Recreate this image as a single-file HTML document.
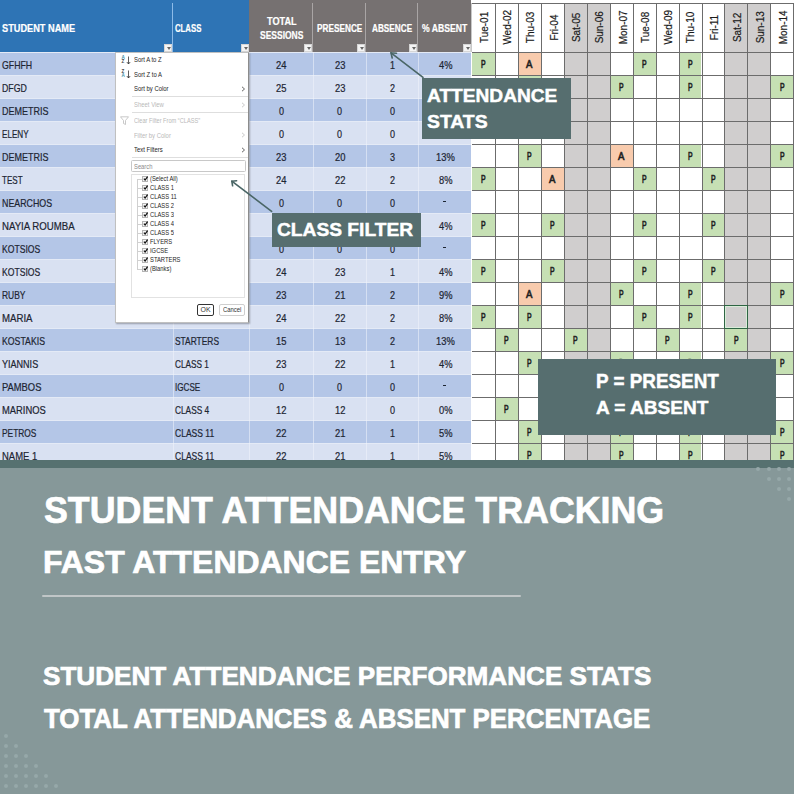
<!DOCTYPE html>
<html><head><meta charset="utf-8"><style>
*{box-sizing:border-box}
html,body{margin:0;padding:0}
body{width:794px;height:794px;overflow:hidden;position:relative;background:#869899;font-family:"Liberation Sans",sans-serif}
.ab{position:absolute}
.t{position:absolute;white-space:nowrap;line-height:1;transform-origin:0 0}
.sk{-webkit-text-stroke:0.3px currentColor}
.fb{position:absolute;width:8px;height:8px;background:#f4f4f4;border:1px solid #d6d6d6}
.fb:after{content:"";position:absolute;left:1.5px;top:2.5px;border-left:2.5px solid transparent;border-right:2.5px solid transparent;border-top:3px solid #666}
.gl{position:absolute;background:#6c6c6c}
.sk2{-webkit-text-stroke:0.45px currentColor}
.sk3{-webkit-text-stroke:0.7px currentColor}
.sk4{-webkit-text-stroke:0.6px currentColor}
.sk1{-webkit-text-stroke:0.2px currentColor}
.co{position:absolute;background:#566e6f}
.cb{position:absolute;width:5.6px;height:5.6px;border:0.8px solid #b4b4b4;background:#f6f6f6}
.dot{position:absolute;width:4px;height:4px;border-radius:50%;background:#96a8a9}
</style></head><body>

<div class="ab" style="left:0;top:0;width:249px;height:52px;background:#2e74b5"></div>
<div class="ab" style="left:249px;top:0;width:223px;height:52px;background:#767171"></div>
<div class="ab" style="left:172px;top:3px;width:1.2px;height:49px;background:#8dbbe8"></div>
<div class="ab" style="left:312px;top:3px;width:1.2px;height:49px;background:#a9a5a5"></div>
<div class="ab" style="left:365px;top:3px;width:1.2px;height:49px;background:#a9a5a5"></div>
<div class="ab" style="left:417px;top:3px;width:1.2px;height:49px;background:#a9a5a5"></div>
<div class="t sk1" style="left:1.60px;top:23.69px;font-size:10.17px;font-weight:bold;color:#fff;transform:scaleX(0.9065);">STUDENT NAME</div>
<div class="t sk1" style="left:174.90px;top:23.69px;font-size:10.17px;font-weight:bold;color:#fff;transform:scaleX(0.7661);">CLASS</div>
<div class="t sk1" style="left:266.70px;top:16.74px;font-size:10.47px;font-weight:bold;color:#fff;transform:scaleX(0.8724);">TOTAL</div>
<div class="t sk1" style="left:259.70px;top:31.04px;font-size:10.47px;font-weight:bold;color:#fff;transform:scaleX(0.8102);">SESSIONS</div>
<div class="t sk1" style="left:316.80px;top:23.69px;font-size:10.17px;font-weight:bold;color:#fff;transform:scaleX(0.8112);">PRESENCE</div>
<div class="t sk1" style="left:371.80px;top:23.69px;font-size:10.17px;font-weight:bold;color:#fff;transform:scaleX(0.8077);">ABSENCE</div>
<div class="t sk1" style="left:422.30px;top:23.69px;font-size:10.17px;font-weight:bold;color:#fff;transform:scaleX(0.8488);">% ABSENT</div>
<div class="fb" style="left:164px;top:43.5px"></div>
<div class="fb" style="left:241px;top:43.5px"></div>
<div class="fb" style="left:304px;top:43.5px"></div>
<div class="fb" style="left:357px;top:43.5px"></div>
<div class="fb" style="left:409px;top:43.5px"></div>
<div class="fb" style="left:463px;top:43.5px"></div>
<div class="ab" style="left:0;top:52px;width:472px;height:23px;background:#b4c6e7;border-top:1px solid #e4eaf6"></div>
<div class="ab" style="left:0;top:75px;width:472px;height:23px;background:#d9e1f2;border-top:1px solid #e4eaf6"></div>
<div class="ab" style="left:0;top:98px;width:472px;height:23px;background:#b4c6e7;border-top:1px solid #e4eaf6"></div>
<div class="ab" style="left:0;top:121px;width:472px;height:23px;background:#d9e1f2;border-top:1px solid #e4eaf6"></div>
<div class="ab" style="left:0;top:144px;width:472px;height:23px;background:#b4c6e7;border-top:1px solid #e4eaf6"></div>
<div class="ab" style="left:0;top:167px;width:472px;height:23px;background:#d9e1f2;border-top:1px solid #e4eaf6"></div>
<div class="ab" style="left:0;top:190px;width:472px;height:23px;background:#b4c6e7;border-top:1px solid #e4eaf6"></div>
<div class="ab" style="left:0;top:213px;width:472px;height:23px;background:#d9e1f2;border-top:1px solid #e4eaf6"></div>
<div class="ab" style="left:0;top:236px;width:472px;height:23px;background:#b4c6e7;border-top:1px solid #e4eaf6"></div>
<div class="ab" style="left:0;top:259px;width:472px;height:23px;background:#d9e1f2;border-top:1px solid #e4eaf6"></div>
<div class="ab" style="left:0;top:282px;width:472px;height:23px;background:#b4c6e7;border-top:1px solid #e4eaf6"></div>
<div class="ab" style="left:0;top:305px;width:472px;height:23px;background:#d9e1f2;border-top:1px solid #e4eaf6"></div>
<div class="ab" style="left:0;top:328px;width:472px;height:23px;background:#b4c6e7;border-top:1px solid #e4eaf6"></div>
<div class="ab" style="left:0;top:351px;width:472px;height:23px;background:#d9e1f2;border-top:1px solid #e4eaf6"></div>
<div class="ab" style="left:0;top:374px;width:472px;height:23px;background:#b4c6e7;border-top:1px solid #e4eaf6"></div>
<div class="ab" style="left:0;top:397px;width:472px;height:23px;background:#d9e1f2;border-top:1px solid #e4eaf6"></div>
<div class="ab" style="left:0;top:420px;width:472px;height:23px;background:#b4c6e7;border-top:1px solid #e4eaf6"></div>
<div class="ab" style="left:0;top:443px;width:472px;height:23px;background:#d9e1f2;border-top:1px solid #e4eaf6"></div>
<div class="ab" style="left:172.5px;top:52px;width:1.2px;height:410px;background:rgba(240,244,252,0.55)"></div>
<div class="ab" style="left:249px;top:52px;width:1.2px;height:410px;background:rgba(240,244,252,0.55)"></div>
<div class="ab" style="left:312.5px;top:52px;width:1.2px;height:410px;background:rgba(240,244,252,0.55)"></div>
<div class="ab" style="left:365.5px;top:52px;width:1.2px;height:410px;background:rgba(240,244,252,0.55)"></div>
<div class="ab" style="left:417.5px;top:52px;width:1.2px;height:410px;background:rgba(240,244,252,0.55)"></div>
<div class="t sk1" style="left:1.90px;top:60.51px;font-size:10.03px;font-weight:normal;color:#1d2532;transform:scaleX(0.8721);">GFHFH</div>
<div class="t sk1" style="left:276.26px;top:60.51px;font-size:10.03px;font-weight:normal;color:#1d2532;transform:scaleX(0.9351);">24</div>
<div class="t sk1" style="left:334.51px;top:60.51px;font-size:10.03px;font-weight:normal;color:#1d2532;transform:scaleX(0.9351);">23</div>
<div class="t sk1" style="left:389.68px;top:60.51px;font-size:10.03px;font-weight:normal;color:#1d2532;transform:scaleX(0.9007);">1</div>
<div class="t sk1" style="left:438.70px;top:60.51px;font-size:10.03px;font-weight:normal;color:#1d2532;transform:scaleX(0.9316);">4%</div>
<div class="t sk1" style="left:1.90px;top:83.51px;font-size:10.03px;font-weight:normal;color:#1d2532;transform:scaleX(0.8763);">DFGD</div>
<div class="t sk1" style="left:276.26px;top:83.51px;font-size:10.03px;font-weight:normal;color:#1d2532;transform:scaleX(0.9351);">25</div>
<div class="t sk1" style="left:334.51px;top:83.51px;font-size:10.03px;font-weight:normal;color:#1d2532;transform:scaleX(0.9351);">23</div>
<div class="t sk1" style="left:389.68px;top:83.51px;font-size:10.03px;font-weight:normal;color:#1d2532;transform:scaleX(0.9007);">2</div>
<div class="t sk1" style="left:438.70px;top:83.51px;font-size:10.03px;font-weight:normal;color:#1d2532;transform:scaleX(0.9316);">8%</div>
<div class="t sk1" style="left:1.90px;top:106.51px;font-size:10.03px;font-weight:normal;color:#1d2532;transform:scaleX(0.8975);">DEMETRIS</div>
<div class="t sk1" style="left:278.93px;top:106.51px;font-size:10.03px;font-weight:normal;color:#1d2532;transform:scaleX(0.9007);">0</div>
<div class="t sk1" style="left:337.18px;top:106.51px;font-size:10.03px;font-weight:normal;color:#1d2532;transform:scaleX(0.9007);">0</div>
<div class="t sk1" style="left:389.68px;top:106.51px;font-size:10.03px;font-weight:normal;color:#1d2532;transform:scaleX(0.9007);">0</div>
<div class="ab" style="left:443.2px;top:109px;width:3px;height:1px;background:#1d2532"></div>
<div class="t sk1" style="left:1.90px;top:129.51px;font-size:10.03px;font-weight:normal;color:#1d2532;transform:scaleX(0.8110);">ELENY</div>
<div class="t sk1" style="left:278.93px;top:129.51px;font-size:10.03px;font-weight:normal;color:#1d2532;transform:scaleX(0.9007);">0</div>
<div class="t sk1" style="left:337.18px;top:129.51px;font-size:10.03px;font-weight:normal;color:#1d2532;transform:scaleX(0.9007);">0</div>
<div class="t sk1" style="left:389.68px;top:129.51px;font-size:10.03px;font-weight:normal;color:#1d2532;transform:scaleX(0.9007);">0</div>
<div class="ab" style="left:443.2px;top:132px;width:3px;height:1px;background:#1d2532"></div>
<div class="t sk1" style="left:1.90px;top:152.51px;font-size:10.03px;font-weight:normal;color:#1d2532;transform:scaleX(0.8975);">DEMETRIS</div>
<div class="t sk1" style="left:276.26px;top:152.51px;font-size:10.03px;font-weight:normal;color:#1d2532;transform:scaleX(0.9351);">23</div>
<div class="t sk1" style="left:334.51px;top:152.51px;font-size:10.03px;font-weight:normal;color:#1d2532;transform:scaleX(0.9351);">20</div>
<div class="t sk1" style="left:389.68px;top:152.51px;font-size:10.03px;font-weight:normal;color:#1d2532;transform:scaleX(0.9007);">3</div>
<div class="t sk1" style="left:436.07px;top:152.51px;font-size:10.03px;font-weight:normal;color:#1d2532;transform:scaleX(0.9376);">13%</div>
<div class="t sk1" style="left:1.90px;top:175.51px;font-size:10.03px;font-weight:normal;color:#1d2532;transform:scaleX(0.8047);">TEST</div>
<div class="t sk1" style="left:276.26px;top:175.51px;font-size:10.03px;font-weight:normal;color:#1d2532;transform:scaleX(0.9351);">24</div>
<div class="t sk1" style="left:334.51px;top:175.51px;font-size:10.03px;font-weight:normal;color:#1d2532;transform:scaleX(0.9351);">22</div>
<div class="t sk1" style="left:389.68px;top:175.51px;font-size:10.03px;font-weight:normal;color:#1d2532;transform:scaleX(0.9007);">2</div>
<div class="t sk1" style="left:438.70px;top:175.51px;font-size:10.03px;font-weight:normal;color:#1d2532;transform:scaleX(0.9316);">8%</div>
<div class="t sk1" style="left:1.90px;top:198.51px;font-size:10.03px;font-weight:normal;color:#1d2532;transform:scaleX(0.8818);">NEARCHOS</div>
<div class="t sk1" style="left:278.93px;top:198.51px;font-size:10.03px;font-weight:normal;color:#1d2532;transform:scaleX(0.9007);">0</div>
<div class="t sk1" style="left:337.18px;top:198.51px;font-size:10.03px;font-weight:normal;color:#1d2532;transform:scaleX(0.9007);">0</div>
<div class="t sk1" style="left:389.68px;top:198.51px;font-size:10.03px;font-weight:normal;color:#1d2532;transform:scaleX(0.9007);">0</div>
<div class="ab" style="left:443.2px;top:201px;width:3px;height:1px;background:#1d2532"></div>
<div class="t sk1" style="left:1.90px;top:221.51px;font-size:10.03px;font-weight:normal;color:#1d2532;transform:scaleX(0.9629);">NAYIA ROUMBA</div>
<div class="t sk1" style="left:276.26px;top:221.51px;font-size:10.03px;font-weight:normal;color:#1d2532;transform:scaleX(0.9351);">24</div>
<div class="t sk1" style="left:334.51px;top:221.51px;font-size:10.03px;font-weight:normal;color:#1d2532;transform:scaleX(0.9351);">23</div>
<div class="t sk1" style="left:389.68px;top:221.51px;font-size:10.03px;font-weight:normal;color:#1d2532;transform:scaleX(0.9007);">1</div>
<div class="t sk1" style="left:438.70px;top:221.51px;font-size:10.03px;font-weight:normal;color:#1d2532;transform:scaleX(0.9316);">4%</div>
<div class="t sk1" style="left:1.90px;top:244.51px;font-size:10.03px;font-weight:normal;color:#1d2532;transform:scaleX(0.8584);">KOTSIOS</div>
<div class="t sk1" style="left:278.93px;top:244.51px;font-size:10.03px;font-weight:normal;color:#1d2532;transform:scaleX(0.9007);">0</div>
<div class="t sk1" style="left:337.18px;top:244.51px;font-size:10.03px;font-weight:normal;color:#1d2532;transform:scaleX(0.9007);">0</div>
<div class="t sk1" style="left:389.68px;top:244.51px;font-size:10.03px;font-weight:normal;color:#1d2532;transform:scaleX(0.9007);">0</div>
<div class="ab" style="left:443.2px;top:247px;width:3px;height:1px;background:#1d2532"></div>
<div class="t sk1" style="left:1.90px;top:267.51px;font-size:10.03px;font-weight:normal;color:#1d2532;transform:scaleX(0.8584);">KOTSIOS</div>
<div class="t sk1" style="left:276.26px;top:267.51px;font-size:10.03px;font-weight:normal;color:#1d2532;transform:scaleX(0.9351);">24</div>
<div class="t sk1" style="left:334.51px;top:267.51px;font-size:10.03px;font-weight:normal;color:#1d2532;transform:scaleX(0.9351);">23</div>
<div class="t sk1" style="left:389.68px;top:267.51px;font-size:10.03px;font-weight:normal;color:#1d2532;transform:scaleX(0.9007);">1</div>
<div class="t sk1" style="left:438.70px;top:267.51px;font-size:10.03px;font-weight:normal;color:#1d2532;transform:scaleX(0.9316);">4%</div>
<div class="t sk1" style="left:1.90px;top:290.51px;font-size:10.03px;font-weight:normal;color:#1d2532;transform:scaleX(0.8417);">RUBY</div>
<div class="t sk1" style="left:276.26px;top:290.51px;font-size:10.03px;font-weight:normal;color:#1d2532;transform:scaleX(0.9351);">23</div>
<div class="t sk1" style="left:334.51px;top:290.51px;font-size:10.03px;font-weight:normal;color:#1d2532;transform:scaleX(0.9351);">21</div>
<div class="t sk1" style="left:389.68px;top:290.51px;font-size:10.03px;font-weight:normal;color:#1d2532;transform:scaleX(0.9007);">2</div>
<div class="t sk1" style="left:438.70px;top:290.51px;font-size:10.03px;font-weight:normal;color:#1d2532;transform:scaleX(0.9316);">9%</div>
<div class="t sk1" style="left:1.90px;top:313.51px;font-size:10.03px;font-weight:normal;color:#1d2532;transform:scaleX(0.9621);">MARIA</div>
<div class="t sk1" style="left:276.26px;top:313.51px;font-size:10.03px;font-weight:normal;color:#1d2532;transform:scaleX(0.9351);">24</div>
<div class="t sk1" style="left:334.51px;top:313.51px;font-size:10.03px;font-weight:normal;color:#1d2532;transform:scaleX(0.9351);">22</div>
<div class="t sk1" style="left:389.68px;top:313.51px;font-size:10.03px;font-weight:normal;color:#1d2532;transform:scaleX(0.9007);">2</div>
<div class="t sk1" style="left:438.70px;top:313.51px;font-size:10.03px;font-weight:normal;color:#1d2532;transform:scaleX(0.9316);">8%</div>
<div class="t sk1" style="left:1.90px;top:336.51px;font-size:10.03px;font-weight:normal;color:#1d2532;transform:scaleX(0.8702);">KOSTAKIS</div>
<div class="t sk1" style="left:174.90px;top:336.51px;font-size:10.03px;font-weight:normal;color:#1d2532;transform:scaleX(0.8378);">STARTERS</div>
<div class="t sk1" style="left:276.26px;top:336.51px;font-size:10.03px;font-weight:normal;color:#1d2532;transform:scaleX(0.9351);">15</div>
<div class="t sk1" style="left:334.51px;top:336.51px;font-size:10.03px;font-weight:normal;color:#1d2532;transform:scaleX(0.9351);">13</div>
<div class="t sk1" style="left:389.68px;top:336.51px;font-size:10.03px;font-weight:normal;color:#1d2532;transform:scaleX(0.9007);">2</div>
<div class="t sk1" style="left:436.07px;top:336.51px;font-size:10.03px;font-weight:normal;color:#1d2532;transform:scaleX(0.9376);">13%</div>
<div class="t sk1" style="left:1.90px;top:359.51px;font-size:10.03px;font-weight:normal;color:#1d2532;transform:scaleX(0.9025);">YIANNIS</div>
<div class="t sk1" style="left:174.90px;top:359.51px;font-size:10.03px;font-weight:normal;color:#1d2532;transform:scaleX(0.8224);">CLASS 1</div>
<div class="t sk1" style="left:276.26px;top:359.51px;font-size:10.03px;font-weight:normal;color:#1d2532;transform:scaleX(0.9351);">23</div>
<div class="t sk1" style="left:334.51px;top:359.51px;font-size:10.03px;font-weight:normal;color:#1d2532;transform:scaleX(0.9351);">22</div>
<div class="t sk1" style="left:389.68px;top:359.51px;font-size:10.03px;font-weight:normal;color:#1d2532;transform:scaleX(0.9007);">1</div>
<div class="t sk1" style="left:438.70px;top:359.51px;font-size:10.03px;font-weight:normal;color:#1d2532;transform:scaleX(0.9316);">4%</div>
<div class="t sk1" style="left:1.90px;top:382.51px;font-size:10.03px;font-weight:normal;color:#1d2532;transform:scaleX(0.9357);">PAMBOS</div>
<div class="t sk1" style="left:174.90px;top:382.51px;font-size:10.03px;font-weight:normal;color:#1d2532;transform:scaleX(0.8103);">IGCSE</div>
<div class="t sk1" style="left:278.93px;top:382.51px;font-size:10.03px;font-weight:normal;color:#1d2532;transform:scaleX(0.9007);">0</div>
<div class="t sk1" style="left:337.18px;top:382.51px;font-size:10.03px;font-weight:normal;color:#1d2532;transform:scaleX(0.9007);">0</div>
<div class="t sk1" style="left:389.68px;top:382.51px;font-size:10.03px;font-weight:normal;color:#1d2532;transform:scaleX(0.9007);">0</div>
<div class="ab" style="left:443.2px;top:385px;width:3px;height:1px;background:#1d2532"></div>
<div class="t sk1" style="left:1.90px;top:405.51px;font-size:10.03px;font-weight:normal;color:#1d2532;transform:scaleX(0.9358);">MARINOS</div>
<div class="t sk1" style="left:174.90px;top:405.51px;font-size:10.03px;font-weight:normal;color:#1d2532;transform:scaleX(0.8297);">CLASS 4</div>
<div class="t sk1" style="left:276.26px;top:405.51px;font-size:10.03px;font-weight:normal;color:#1d2532;transform:scaleX(0.9351);">12</div>
<div class="t sk1" style="left:334.51px;top:405.51px;font-size:10.03px;font-weight:normal;color:#1d2532;transform:scaleX(0.9351);">12</div>
<div class="t sk1" style="left:389.68px;top:405.51px;font-size:10.03px;font-weight:normal;color:#1d2532;transform:scaleX(0.9007);">0</div>
<div class="t sk1" style="left:438.70px;top:405.51px;font-size:10.03px;font-weight:normal;color:#1d2532;transform:scaleX(0.9316);">0%</div>
<div class="t sk1" style="left:1.90px;top:428.51px;font-size:10.03px;font-weight:normal;color:#1d2532;transform:scaleX(0.8345);">PETROS</div>
<div class="t sk1" style="left:174.90px;top:428.51px;font-size:10.03px;font-weight:normal;color:#1d2532;transform:scaleX(0.8500);">CLASS 11</div>
<div class="t sk1" style="left:276.26px;top:428.51px;font-size:10.03px;font-weight:normal;color:#1d2532;transform:scaleX(0.9351);">22</div>
<div class="t sk1" style="left:334.51px;top:428.51px;font-size:10.03px;font-weight:normal;color:#1d2532;transform:scaleX(0.9351);">21</div>
<div class="t sk1" style="left:389.68px;top:428.51px;font-size:10.03px;font-weight:normal;color:#1d2532;transform:scaleX(0.9007);">1</div>
<div class="t sk1" style="left:438.70px;top:428.51px;font-size:10.03px;font-weight:normal;color:#1d2532;transform:scaleX(0.9316);">5%</div>
<div class="t sk1" style="left:1.90px;top:451.51px;font-size:10.03px;font-weight:normal;color:#1d2532;transform:scaleX(0.9435);">NAME 1</div>
<div class="t sk1" style="left:174.90px;top:451.51px;font-size:10.03px;font-weight:normal;color:#1d2532;transform:scaleX(0.8500);">CLASS 11</div>
<div class="t sk1" style="left:276.26px;top:451.51px;font-size:10.03px;font-weight:normal;color:#1d2532;transform:scaleX(0.9351);">22</div>
<div class="t sk1" style="left:334.51px;top:451.51px;font-size:10.03px;font-weight:normal;color:#1d2532;transform:scaleX(0.9351);">21</div>
<div class="t sk1" style="left:389.68px;top:451.51px;font-size:10.03px;font-weight:normal;color:#1d2532;transform:scaleX(0.9007);">1</div>
<div class="t sk1" style="left:438.70px;top:451.51px;font-size:10.03px;font-weight:normal;color:#1d2532;transform:scaleX(0.9316);">5%</div>
<div class="ab" style="left:471px;top:0px;width:323px;height:463px;background:#fff"></div>
<div class="ab" style="left:563.8px;top:3px;width:22.95px;height:459px;background:#d0cece"></div>
<div class="ab" style="left:586.75px;top:3px;width:22.95px;height:459px;background:#d0cece"></div>
<div class="ab" style="left:724.45px;top:3px;width:22.95px;height:459px;background:#d0cece"></div>
<div class="ab" style="left:747.4px;top:3px;width:22.95px;height:459px;background:#d0cece"></div>
<div class="ab" style="left:472.0px;top:52px;width:22.95px;height:23px;background:#c6e0b4"></div>
<div class="t sk4" style="left:481.48px;top:60.11px;font-size:10.03px;font-weight:normal;color:#1f1f1f;transform:scaleX(0.6866);">P</div>
<div class="ab" style="left:517.9px;top:52px;width:22.95px;height:23px;background:#f8cbad"></div>
<div class="t sk4" style="left:526.47px;top:60.11px;font-size:10.03px;font-weight:normal;color:#1f1f1f;transform:scaleX(0.9552);">A</div>
<div class="ab" style="left:632.65px;top:52px;width:22.95px;height:23px;background:#c6e0b4"></div>
<div class="t sk4" style="left:642.12px;top:60.11px;font-size:10.03px;font-weight:normal;color:#1f1f1f;transform:scaleX(0.6866);">P</div>
<div class="ab" style="left:678.55px;top:52px;width:22.95px;height:23px;background:#c6e0b4"></div>
<div class="t sk4" style="left:688.02px;top:60.11px;font-size:10.03px;font-weight:normal;color:#1f1f1f;transform:scaleX(0.6866);">P</div>
<div class="ab" style="left:517.9px;top:75px;width:22.95px;height:23px;background:#c6e0b4"></div>
<div class="t sk4" style="left:527.38px;top:83.11px;font-size:10.03px;font-weight:normal;color:#1f1f1f;transform:scaleX(0.6866);">P</div>
<div class="ab" style="left:609.7px;top:75px;width:22.95px;height:23px;background:#c6e0b4"></div>
<div class="t sk4" style="left:619.18px;top:83.11px;font-size:10.03px;font-weight:normal;color:#1f1f1f;transform:scaleX(0.6866);">P</div>
<div class="ab" style="left:678.55px;top:75px;width:22.95px;height:23px;background:#c6e0b4"></div>
<div class="t sk4" style="left:688.02px;top:83.11px;font-size:10.03px;font-weight:normal;color:#1f1f1f;transform:scaleX(0.6866);">P</div>
<div class="ab" style="left:770.3499999999999px;top:75px;width:22.95px;height:23px;background:#c6e0b4"></div>
<div class="t sk4" style="left:779.82px;top:83.11px;font-size:10.03px;font-weight:normal;color:#1f1f1f;transform:scaleX(0.6866);">P</div>
<div class="ab" style="left:517.9px;top:144px;width:22.95px;height:23px;background:#c6e0b4"></div>
<div class="t sk4" style="left:527.38px;top:152.11px;font-size:10.03px;font-weight:normal;color:#1f1f1f;transform:scaleX(0.6866);">P</div>
<div class="ab" style="left:609.7px;top:144px;width:22.95px;height:23px;background:#f8cbad"></div>
<div class="t sk4" style="left:618.27px;top:152.11px;font-size:10.03px;font-weight:normal;color:#1f1f1f;transform:scaleX(0.9552);">A</div>
<div class="ab" style="left:678.55px;top:144px;width:22.95px;height:23px;background:#c6e0b4"></div>
<div class="t sk4" style="left:688.02px;top:152.11px;font-size:10.03px;font-weight:normal;color:#1f1f1f;transform:scaleX(0.6866);">P</div>
<div class="ab" style="left:770.3499999999999px;top:144px;width:22.95px;height:23px;background:#c6e0b4"></div>
<div class="t sk4" style="left:779.82px;top:152.11px;font-size:10.03px;font-weight:normal;color:#1f1f1f;transform:scaleX(0.6866);">P</div>
<div class="ab" style="left:472.0px;top:167px;width:22.95px;height:23px;background:#c6e0b4"></div>
<div class="t sk4" style="left:481.48px;top:175.11px;font-size:10.03px;font-weight:normal;color:#1f1f1f;transform:scaleX(0.6866);">P</div>
<div class="ab" style="left:540.85px;top:167px;width:22.95px;height:23px;background:#f8cbad"></div>
<div class="t sk4" style="left:549.42px;top:175.11px;font-size:10.03px;font-weight:normal;color:#1f1f1f;transform:scaleX(0.9552);">A</div>
<div class="ab" style="left:632.65px;top:167px;width:22.95px;height:23px;background:#c6e0b4"></div>
<div class="t sk4" style="left:642.12px;top:175.11px;font-size:10.03px;font-weight:normal;color:#1f1f1f;transform:scaleX(0.6866);">P</div>
<div class="ab" style="left:701.5px;top:167px;width:22.95px;height:23px;background:#c6e0b4"></div>
<div class="t sk4" style="left:710.98px;top:175.11px;font-size:10.03px;font-weight:normal;color:#1f1f1f;transform:scaleX(0.6866);">P</div>
<div class="ab" style="left:472.0px;top:213px;width:22.95px;height:23px;background:#c6e0b4"></div>
<div class="t sk4" style="left:481.48px;top:221.11px;font-size:10.03px;font-weight:normal;color:#1f1f1f;transform:scaleX(0.6866);">P</div>
<div class="ab" style="left:540.85px;top:213px;width:22.95px;height:23px;background:#c6e0b4"></div>
<div class="t sk4" style="left:550.33px;top:221.11px;font-size:10.03px;font-weight:normal;color:#1f1f1f;transform:scaleX(0.6866);">P</div>
<div class="ab" style="left:632.65px;top:213px;width:22.95px;height:23px;background:#c6e0b4"></div>
<div class="t sk4" style="left:642.12px;top:221.11px;font-size:10.03px;font-weight:normal;color:#1f1f1f;transform:scaleX(0.6866);">P</div>
<div class="ab" style="left:701.5px;top:213px;width:22.95px;height:23px;background:#c6e0b4"></div>
<div class="t sk4" style="left:710.98px;top:221.11px;font-size:10.03px;font-weight:normal;color:#1f1f1f;transform:scaleX(0.6866);">P</div>
<div class="ab" style="left:472.0px;top:259px;width:22.95px;height:23px;background:#c6e0b4"></div>
<div class="t sk4" style="left:481.48px;top:267.11px;font-size:10.03px;font-weight:normal;color:#1f1f1f;transform:scaleX(0.6866);">P</div>
<div class="ab" style="left:540.85px;top:259px;width:22.95px;height:23px;background:#c6e0b4"></div>
<div class="t sk4" style="left:550.33px;top:267.11px;font-size:10.03px;font-weight:normal;color:#1f1f1f;transform:scaleX(0.6866);">P</div>
<div class="ab" style="left:632.65px;top:259px;width:22.95px;height:23px;background:#c6e0b4"></div>
<div class="t sk4" style="left:642.12px;top:267.11px;font-size:10.03px;font-weight:normal;color:#1f1f1f;transform:scaleX(0.6866);">P</div>
<div class="ab" style="left:701.5px;top:259px;width:22.95px;height:23px;background:#c6e0b4"></div>
<div class="t sk4" style="left:710.98px;top:267.11px;font-size:10.03px;font-weight:normal;color:#1f1f1f;transform:scaleX(0.6866);">P</div>
<div class="ab" style="left:517.9px;top:282px;width:22.95px;height:23px;background:#f8cbad"></div>
<div class="t sk4" style="left:526.47px;top:290.11px;font-size:10.03px;font-weight:normal;color:#1f1f1f;transform:scaleX(0.9552);">A</div>
<div class="ab" style="left:609.7px;top:282px;width:22.95px;height:23px;background:#c6e0b4"></div>
<div class="t sk4" style="left:619.18px;top:290.11px;font-size:10.03px;font-weight:normal;color:#1f1f1f;transform:scaleX(0.6866);">P</div>
<div class="ab" style="left:678.55px;top:282px;width:22.95px;height:23px;background:#c6e0b4"></div>
<div class="t sk4" style="left:688.02px;top:290.11px;font-size:10.03px;font-weight:normal;color:#1f1f1f;transform:scaleX(0.6866);">P</div>
<div class="ab" style="left:770.3499999999999px;top:282px;width:22.95px;height:23px;background:#c6e0b4"></div>
<div class="t sk4" style="left:779.82px;top:290.11px;font-size:10.03px;font-weight:normal;color:#1f1f1f;transform:scaleX(0.6866);">P</div>
<div class="ab" style="left:472.0px;top:305px;width:22.95px;height:23px;background:#c6e0b4"></div>
<div class="t sk4" style="left:481.48px;top:313.11px;font-size:10.03px;font-weight:normal;color:#1f1f1f;transform:scaleX(0.6866);">P</div>
<div class="ab" style="left:517.9px;top:305px;width:22.95px;height:23px;background:#c6e0b4"></div>
<div class="t sk4" style="left:527.38px;top:313.11px;font-size:10.03px;font-weight:normal;color:#1f1f1f;transform:scaleX(0.6866);">P</div>
<div class="ab" style="left:632.65px;top:305px;width:22.95px;height:23px;background:#c6e0b4"></div>
<div class="t sk4" style="left:642.12px;top:313.11px;font-size:10.03px;font-weight:normal;color:#1f1f1f;transform:scaleX(0.6866);">P</div>
<div class="ab" style="left:678.55px;top:305px;width:22.95px;height:23px;background:#c6e0b4"></div>
<div class="t sk4" style="left:688.02px;top:313.11px;font-size:10.03px;font-weight:normal;color:#1f1f1f;transform:scaleX(0.6866);">P</div>
<div class="ab" style="left:494.95px;top:328px;width:22.95px;height:23px;background:#c6e0b4"></div>
<div class="t sk4" style="left:504.43px;top:336.11px;font-size:10.03px;font-weight:normal;color:#1f1f1f;transform:scaleX(0.6866);">P</div>
<div class="ab" style="left:563.8px;top:328px;width:22.95px;height:23px;background:#c6e0b4"></div>
<div class="t sk4" style="left:573.27px;top:336.11px;font-size:10.03px;font-weight:normal;color:#1f1f1f;transform:scaleX(0.6866);">P</div>
<div class="ab" style="left:655.6px;top:328px;width:22.95px;height:23px;background:#c6e0b4"></div>
<div class="t sk4" style="left:665.08px;top:336.11px;font-size:10.03px;font-weight:normal;color:#1f1f1f;transform:scaleX(0.6866);">P</div>
<div class="ab" style="left:724.45px;top:328px;width:22.95px;height:23px;background:#c6e0b4"></div>
<div class="t sk4" style="left:733.93px;top:336.11px;font-size:10.03px;font-weight:normal;color:#1f1f1f;transform:scaleX(0.6866);">P</div>
<div class="ab" style="left:517.9px;top:351px;width:22.95px;height:23px;background:#c6e0b4"></div>
<div class="t sk4" style="left:527.38px;top:359.11px;font-size:10.03px;font-weight:normal;color:#1f1f1f;transform:scaleX(0.6866);">P</div>
<div class="ab" style="left:609.7px;top:351px;width:22.95px;height:23px;background:#c6e0b4"></div>
<div class="t sk4" style="left:619.18px;top:359.11px;font-size:10.03px;font-weight:normal;color:#1f1f1f;transform:scaleX(0.6866);">P</div>
<div class="ab" style="left:678.55px;top:351px;width:22.95px;height:23px;background:#c6e0b4"></div>
<div class="t sk4" style="left:688.02px;top:359.11px;font-size:10.03px;font-weight:normal;color:#1f1f1f;transform:scaleX(0.6866);">P</div>
<div class="ab" style="left:770.3499999999999px;top:351px;width:22.95px;height:23px;background:#c6e0b4"></div>
<div class="t sk4" style="left:779.82px;top:359.11px;font-size:10.03px;font-weight:normal;color:#1f1f1f;transform:scaleX(0.6866);">P</div>
<div class="ab" style="left:494.95px;top:397px;width:22.95px;height:23px;background:#c6e0b4"></div>
<div class="t sk4" style="left:504.43px;top:405.11px;font-size:10.03px;font-weight:normal;color:#1f1f1f;transform:scaleX(0.6866);">P</div>
<div class="ab" style="left:563.8px;top:397px;width:22.95px;height:23px;background:#c6e0b4"></div>
<div class="t sk4" style="left:573.27px;top:405.11px;font-size:10.03px;font-weight:normal;color:#1f1f1f;transform:scaleX(0.6866);">P</div>
<div class="ab" style="left:655.6px;top:397px;width:22.95px;height:23px;background:#c6e0b4"></div>
<div class="t sk4" style="left:665.08px;top:405.11px;font-size:10.03px;font-weight:normal;color:#1f1f1f;transform:scaleX(0.6866);">P</div>
<div class="ab" style="left:724.45px;top:397px;width:22.95px;height:23px;background:#c6e0b4"></div>
<div class="t sk4" style="left:733.93px;top:405.11px;font-size:10.03px;font-weight:normal;color:#1f1f1f;transform:scaleX(0.6866);">P</div>
<div class="ab" style="left:517.9px;top:420px;width:22.95px;height:23px;background:#c6e0b4"></div>
<div class="t sk4" style="left:527.38px;top:428.11px;font-size:10.03px;font-weight:normal;color:#1f1f1f;transform:scaleX(0.6866);">P</div>
<div class="ab" style="left:609.7px;top:420px;width:22.95px;height:23px;background:#c6e0b4"></div>
<div class="t sk4" style="left:619.18px;top:428.11px;font-size:10.03px;font-weight:normal;color:#1f1f1f;transform:scaleX(0.6866);">P</div>
<div class="ab" style="left:678.55px;top:420px;width:22.95px;height:23px;background:#c6e0b4"></div>
<div class="t sk4" style="left:688.02px;top:428.11px;font-size:10.03px;font-weight:normal;color:#1f1f1f;transform:scaleX(0.6866);">P</div>
<div class="ab" style="left:770.3499999999999px;top:420px;width:22.95px;height:23px;background:#c6e0b4"></div>
<div class="t sk4" style="left:779.82px;top:428.11px;font-size:10.03px;font-weight:normal;color:#1f1f1f;transform:scaleX(0.6866);">P</div>
<div class="ab" style="left:517.9px;top:443px;width:22.95px;height:23px;background:#c6e0b4"></div>
<div class="t sk4" style="left:527.38px;top:451.11px;font-size:10.03px;font-weight:normal;color:#1f1f1f;transform:scaleX(0.6866);">P</div>
<div class="ab" style="left:609.7px;top:443px;width:22.95px;height:23px;background:#c6e0b4"></div>
<div class="t sk4" style="left:619.18px;top:451.11px;font-size:10.03px;font-weight:normal;color:#1f1f1f;transform:scaleX(0.6866);">P</div>
<div class="ab" style="left:678.55px;top:443px;width:22.95px;height:23px;background:#c6e0b4"></div>
<div class="t sk4" style="left:688.02px;top:451.11px;font-size:10.03px;font-weight:normal;color:#1f1f1f;transform:scaleX(0.6866);">P</div>
<div class="ab" style="left:770.3499999999999px;top:443px;width:22.95px;height:23px;background:#c6e0b4"></div>
<div class="t sk4" style="left:779.82px;top:451.11px;font-size:10.03px;font-weight:normal;color:#1f1f1f;transform:scaleX(0.6866);">P</div>
<div class="gl" style="left:472px;top:3px;width:322px;height:1px"></div>
<div class="gl" style="left:472px;top:52px;width:322px;height:1px"></div>
<div class="gl" style="left:472px;top:75px;width:322px;height:1px"></div>
<div class="gl" style="left:472px;top:98px;width:322px;height:1px"></div>
<div class="gl" style="left:472px;top:121px;width:322px;height:1px"></div>
<div class="gl" style="left:472px;top:144px;width:322px;height:1px"></div>
<div class="gl" style="left:472px;top:167px;width:322px;height:1px"></div>
<div class="gl" style="left:472px;top:190px;width:322px;height:1px"></div>
<div class="gl" style="left:472px;top:213px;width:322px;height:1px"></div>
<div class="gl" style="left:472px;top:236px;width:322px;height:1px"></div>
<div class="gl" style="left:472px;top:259px;width:322px;height:1px"></div>
<div class="gl" style="left:472px;top:282px;width:322px;height:1px"></div>
<div class="gl" style="left:472px;top:305px;width:322px;height:1px"></div>
<div class="gl" style="left:472px;top:328px;width:322px;height:1px"></div>
<div class="gl" style="left:472px;top:351px;width:322px;height:1px"></div>
<div class="gl" style="left:472px;top:374px;width:322px;height:1px"></div>
<div class="gl" style="left:472px;top:397px;width:322px;height:1px"></div>
<div class="gl" style="left:472px;top:420px;width:322px;height:1px"></div>
<div class="gl" style="left:472px;top:443px;width:322px;height:1px"></div>
<div class="ab" style="left:471px;top:3px;width:1px;height:49px;background:#c8c8c8"></div>
<div class="gl" style="left:494.95px;top:3px;width:1px;height:460px"></div>
<div class="gl" style="left:517.9px;top:3px;width:1px;height:460px"></div>
<div class="gl" style="left:540.85px;top:3px;width:1px;height:460px"></div>
<div class="gl" style="left:563.8px;top:3px;width:1px;height:460px"></div>
<div class="gl" style="left:586.75px;top:3px;width:1px;height:460px"></div>
<div class="gl" style="left:609.7px;top:3px;width:1px;height:460px"></div>
<div class="gl" style="left:632.65px;top:3px;width:1px;height:460px"></div>
<div class="gl" style="left:655.6px;top:3px;width:1px;height:460px"></div>
<div class="gl" style="left:678.55px;top:3px;width:1px;height:460px"></div>
<div class="gl" style="left:701.5px;top:3px;width:1px;height:460px"></div>
<div class="gl" style="left:724.45px;top:3px;width:1px;height:460px"></div>
<div class="gl" style="left:747.4px;top:3px;width:1px;height:460px"></div>
<div class="gl" style="left:770.3499999999999px;top:3px;width:1px;height:460px"></div>
<div class="gl" style="left:793.3px;top:3px;width:1px;height:460px"></div>
<div class="t sk1" style="left:470.12px;top:22.74px;font-size:10.47px;color:#1a1a1a;width:30.97px;height:10.47px;transform-origin:15.48px 5.26px;transform:rotate(-90deg) scaleX(0.95)"><span style="display:inline-block">Tue-01</span></div>
<div class="t sk1" style="left:491.36px;top:22.74px;font-size:10.47px;color:#1a1a1a;width:34.39px;height:10.47px;transform-origin:17.20px 5.26px;transform:rotate(-90deg) scaleX(0.95)"><span style="display:inline-block">Wed-02</span></div>
<div class="t sk1" style="left:515.83px;top:22.74px;font-size:10.47px;color:#1a1a1a;width:31.35px;height:10.47px;transform-origin:15.67px 5.26px;transform:rotate(-90deg) scaleX(0.95)"><span style="display:inline-block">Thu-03</span></div>
<div class="t sk1" style="left:541.53px;top:22.74px;font-size:10.47px;color:#1a1a1a;width:25.84px;height:10.47px;transform-origin:12.92px 5.26px;transform:rotate(-90deg) scaleX(0.95)"><span style="display:inline-block">Fri-04</span></div>
<div class="t sk1" style="left:562.87px;top:22.74px;font-size:10.47px;color:#1a1a1a;width:29.07px;height:10.47px;transform-origin:14.54px 5.26px;transform:rotate(-90deg) scaleX(0.95)"><span style="display:inline-block">Sat-05</span></div>
<div class="t sk1" style="left:584.44px;top:22.74px;font-size:10.47px;color:#1a1a1a;width:31.82px;height:10.47px;transform-origin:15.91px 5.26px;transform:rotate(-90deg) scaleX(0.95)"><span style="display:inline-block">Sun-06</span></div>
<div class="t sk1" style="left:606.53px;top:22.74px;font-size:10.47px;color:#1a1a1a;width:33.53px;height:10.47px;transform-origin:16.77px 5.26px;transform:rotate(-90deg) scaleX(0.95)"><span style="display:inline-block">Mon-07</span></div>
<div class="t sk1" style="left:630.76px;top:22.74px;font-size:10.47px;color:#1a1a1a;width:30.97px;height:10.47px;transform-origin:15.48px 5.26px;transform:rotate(-90deg) scaleX(0.95)"><span style="display:inline-block">Tue-08</span></div>
<div class="t sk1" style="left:652.00px;top:22.74px;font-size:10.47px;color:#1a1a1a;width:34.39px;height:10.47px;transform-origin:17.20px 5.26px;transform:rotate(-90deg) scaleX(0.95)"><span style="display:inline-block">Wed-09</span></div>
<div class="t sk1" style="left:676.48px;top:22.74px;font-size:10.47px;color:#1a1a1a;width:31.35px;height:10.47px;transform-origin:15.67px 5.26px;transform:rotate(-90deg) scaleX(0.95)"><span style="display:inline-block">Thu-10</span></div>
<div class="t sk1" style="left:702.56px;top:22.74px;font-size:10.47px;color:#1a1a1a;width:25.08px;height:10.47px;transform-origin:12.54px 5.26px;transform:rotate(-90deg) scaleX(0.95)"><span style="display:inline-block">Fri-11</span></div>
<div class="t sk1" style="left:723.52px;top:22.74px;font-size:10.47px;color:#1a1a1a;width:29.07px;height:10.47px;transform-origin:14.54px 5.26px;transform:rotate(-90deg) scaleX(0.95)"><span style="display:inline-block">Sat-12</span></div>
<div class="t sk1" style="left:745.09px;top:22.74px;font-size:10.47px;color:#1a1a1a;width:31.82px;height:10.47px;transform-origin:15.91px 5.26px;transform:rotate(-90deg) scaleX(0.95)"><span style="display:inline-block">Sun-13</span></div>
<div class="t sk1" style="left:767.18px;top:22.74px;font-size:10.47px;color:#1a1a1a;width:33.53px;height:10.47px;transform-origin:16.77px 5.26px;transform:rotate(-90deg) scaleX(0.95)"><span style="display:inline-block">Mon-14</span></div>
<div class="ab" style="left:724.45px;top:305px;width:24px;height:24px;border:1px solid #2f6544;box-shadow:inset 0 0 0 1px #d8ecd8"></div>
<div class="ab" style="left:0;top:459.6px;width:794px;height:8.4px;background:#567170"></div>
<div class="ab" style="left:115px;top:52.3px;width:134px;height:270.5px;background:#fff;border:1px solid #c0c0c0;border-right-color:#8c8c8c;box-shadow:1px 1px 1.5px rgba(0,0,0,0.3)"></div>
<div class="t " style="left:133.60px;top:55.92px;font-size:7.41px;font-weight:normal;color:#262626;transform:scaleX(0.8000);">Sort A to Z</div>
<div class="t " style="left:133.60px;top:70.52px;font-size:7.41px;font-weight:normal;color:#262626;transform:scaleX(0.8000);">Sort Z to A</div>
<div class="t " style="left:133.60px;top:85.02px;font-size:7.41px;font-weight:normal;color:#262626;transform:scaleX(0.8000);">Sort by Color</div>
<svg class="ab" style="left:241px;top:85.8px" width="5" height="6" viewBox="0 0 5 6"><path d="M1 0.8 L3.5 3 L1 5.2" fill="none" stroke="#555" stroke-width="0.9"/></svg>
<div class="t " style="left:133.60px;top:101.32px;font-size:7.41px;font-weight:normal;color:#b9b9b9;transform:scaleX(0.8000);">Sheet View</div>
<svg class="ab" style="left:241px;top:102.1px" width="5" height="6" viewBox="0 0 5 6"><path d="M1 0.8 L3.5 3 L1 5.2" fill="none" stroke="#c4c4c4" stroke-width="0.9"/></svg>
<div class="t " style="left:133.60px;top:117.22px;font-size:7.41px;font-weight:normal;color:#b9b9b9;transform:scaleX(0.7604);">Clear Filter From “CLASS”</div>
<div class="t " style="left:133.60px;top:131.52px;font-size:7.41px;font-weight:normal;color:#b9b9b9;transform:scaleX(0.8000);">Filter by Color</div>
<svg class="ab" style="left:241px;top:132.3px" width="5" height="6" viewBox="0 0 5 6"><path d="M1 0.8 L3.5 3 L1 5.2" fill="none" stroke="#c4c4c4" stroke-width="0.9"/></svg>
<div class="t " style="left:133.60px;top:145.72px;font-size:7.41px;font-weight:normal;color:#262626;transform:scaleX(0.8000);">Text Filters</div>
<svg class="ab" style="left:241px;top:146.5px" width="5" height="6" viewBox="0 0 5 6"><path d="M1 0.8 L3.5 3 L1 5.2" fill="none" stroke="#555" stroke-width="0.9"/></svg>
<div class="ab" style="left:131.7px;top:96.4px;width:116px;height:1px;background:#dedede"></div>
<div class="ab" style="left:131.7px;top:112.4px;width:116px;height:1px;background:#dedede"></div>
<div class="ab" style="left:131.7px;top:157.4px;width:116px;height:1px;background:#dedede"></div>
<div class="t" style="left:121.5px;top:55.5px;font-size:4.6px;line-height:4.1px;font-weight:bold"><span style="color:#3f93a8">A</span><br><span style="color:#444">Z</span></div>
<svg class="ab" style="left:125.5px;top:55.5px" width="5" height="9" viewBox="0 0 5 9"><path d="M2.5 0.5 V8 M0.8 6 L2.5 8 L4.2 6" fill="none" stroke="#333" stroke-width="0.8"/></svg>
<div class="t" style="left:121.5px;top:70px;font-size:4.6px;line-height:4.1px;font-weight:bold"><span style="color:#444">Z</span><br><span style="color:#3f93a8">A</span></div>
<svg class="ab" style="left:125.5px;top:70px" width="5" height="9" viewBox="0 0 5 9"><path d="M2.5 0.5 V8 M0.8 6 L2.5 8 L4.2 6" fill="none" stroke="#333" stroke-width="0.8"/></svg>
<svg class="ab" style="left:120px;top:116px" width="10" height="10" viewBox="0 0 10 10"><path d="M0.5 0.8 H8.5 L5.5 4.5 V8.5 L3.5 7.5 V4.5 Z" fill="none" stroke="#bbb" stroke-width="0.8"/></svg>
<div class="ab" style="left:131.2px;top:160.2px;width:114.4px;height:11.8px;border:1px solid #c8c8c8;border-radius:1.5px"></div>
<div class="t " style="left:134.00px;top:162.65px;font-size:7.27px;font-weight:normal;color:#8a8a8a;transform:scaleX(0.8000);">Search</div>
<div class="ab" style="left:131px;top:173.8px;width:114.2px;height:124.2px;border:1px solid #e2e2e2"></div>
<div class="ab" style="left:137.4px;top:179px;width:0.8px;height:90px;background:#d0d0d0"></div>
<div class="ab" style="left:137.4px;top:179.10000000000002px;width:4.6px;height:0.8px;background:#d0d0d0"></div>
<div class="cb" style="left:142px;top:176.0px"></div>
<svg class="ab" style="left:142.6px;top:176.20000000000002px;overflow:visible" width="5" height="5" viewBox="0 0 5 5"><path d="M0.9 2.6 L2.1 4.0 L4.6 0.6" fill="none" stroke="#111" stroke-width="1.25"/></svg>
<div class="t " style="left:149.60px;top:175.15px;font-size:7.27px;font-weight:normal;color:#262626;transform:scaleX(0.8000);">(Select All)</div>
<div class="ab" style="left:137.4px;top:188.10000000000002px;width:4.6px;height:0.8px;background:#d0d0d0"></div>
<div class="cb" style="left:142px;top:185.0px"></div>
<svg class="ab" style="left:142.6px;top:185.20000000000002px;overflow:visible" width="5" height="5" viewBox="0 0 5 5"><path d="M0.9 2.6 L2.1 4.0 L4.6 0.6" fill="none" stroke="#111" stroke-width="1.25"/></svg>
<div class="t " style="left:149.60px;top:184.15px;font-size:7.27px;font-weight:normal;color:#262626;transform:scaleX(0.8000);">CLASS 1</div>
<div class="ab" style="left:137.4px;top:197.10000000000002px;width:4.6px;height:0.8px;background:#d0d0d0"></div>
<div class="cb" style="left:142px;top:194.0px"></div>
<svg class="ab" style="left:142.6px;top:194.20000000000002px;overflow:visible" width="5" height="5" viewBox="0 0 5 5"><path d="M0.9 2.6 L2.1 4.0 L4.6 0.6" fill="none" stroke="#111" stroke-width="1.25"/></svg>
<div class="t " style="left:149.60px;top:193.15px;font-size:7.27px;font-weight:normal;color:#262626;transform:scaleX(0.8000);">CLASS 11</div>
<div class="ab" style="left:137.4px;top:206.10000000000002px;width:4.6px;height:0.8px;background:#d0d0d0"></div>
<div class="cb" style="left:142px;top:203.0px"></div>
<svg class="ab" style="left:142.6px;top:203.20000000000002px;overflow:visible" width="5" height="5" viewBox="0 0 5 5"><path d="M0.9 2.6 L2.1 4.0 L4.6 0.6" fill="none" stroke="#111" stroke-width="1.25"/></svg>
<div class="t " style="left:149.60px;top:202.15px;font-size:7.27px;font-weight:normal;color:#262626;transform:scaleX(0.8000);">CLASS 2</div>
<div class="ab" style="left:137.4px;top:215.10000000000002px;width:4.6px;height:0.8px;background:#d0d0d0"></div>
<div class="cb" style="left:142px;top:212.0px"></div>
<svg class="ab" style="left:142.6px;top:212.20000000000002px;overflow:visible" width="5" height="5" viewBox="0 0 5 5"><path d="M0.9 2.6 L2.1 4.0 L4.6 0.6" fill="none" stroke="#111" stroke-width="1.25"/></svg>
<div class="t " style="left:149.60px;top:211.15px;font-size:7.27px;font-weight:normal;color:#262626;transform:scaleX(0.8000);">CLASS 3</div>
<div class="ab" style="left:137.4px;top:224.10000000000002px;width:4.6px;height:0.8px;background:#d0d0d0"></div>
<div class="cb" style="left:142px;top:221.0px"></div>
<svg class="ab" style="left:142.6px;top:221.20000000000002px;overflow:visible" width="5" height="5" viewBox="0 0 5 5"><path d="M0.9 2.6 L2.1 4.0 L4.6 0.6" fill="none" stroke="#111" stroke-width="1.25"/></svg>
<div class="t " style="left:149.60px;top:220.15px;font-size:7.27px;font-weight:normal;color:#262626;transform:scaleX(0.8000);">CLASS 4</div>
<div class="ab" style="left:137.4px;top:233.10000000000002px;width:4.6px;height:0.8px;background:#d0d0d0"></div>
<div class="cb" style="left:142px;top:230.0px"></div>
<svg class="ab" style="left:142.6px;top:230.20000000000002px;overflow:visible" width="5" height="5" viewBox="0 0 5 5"><path d="M0.9 2.6 L2.1 4.0 L4.6 0.6" fill="none" stroke="#111" stroke-width="1.25"/></svg>
<div class="t " style="left:149.60px;top:229.15px;font-size:7.27px;font-weight:normal;color:#262626;transform:scaleX(0.8000);">CLASS 5</div>
<div class="ab" style="left:137.4px;top:242.10000000000002px;width:4.6px;height:0.8px;background:#d0d0d0"></div>
<div class="cb" style="left:142px;top:239.0px"></div>
<svg class="ab" style="left:142.6px;top:239.20000000000002px;overflow:visible" width="5" height="5" viewBox="0 0 5 5"><path d="M0.9 2.6 L2.1 4.0 L4.6 0.6" fill="none" stroke="#111" stroke-width="1.25"/></svg>
<div class="t " style="left:149.60px;top:238.15px;font-size:7.27px;font-weight:normal;color:#262626;transform:scaleX(0.8000);">FLYERS</div>
<div class="ab" style="left:137.4px;top:251.10000000000002px;width:4.6px;height:0.8px;background:#d0d0d0"></div>
<div class="cb" style="left:142px;top:248.0px"></div>
<svg class="ab" style="left:142.6px;top:248.20000000000002px;overflow:visible" width="5" height="5" viewBox="0 0 5 5"><path d="M0.9 2.6 L2.1 4.0 L4.6 0.6" fill="none" stroke="#111" stroke-width="1.25"/></svg>
<div class="t " style="left:149.60px;top:247.15px;font-size:7.27px;font-weight:normal;color:#262626;transform:scaleX(0.8000);">IGCSE</div>
<div class="ab" style="left:137.4px;top:260.1px;width:4.6px;height:0.8px;background:#d0d0d0"></div>
<div class="cb" style="left:142px;top:257.0px"></div>
<svg class="ab" style="left:142.6px;top:257.2px;overflow:visible" width="5" height="5" viewBox="0 0 5 5"><path d="M0.9 2.6 L2.1 4.0 L4.6 0.6" fill="none" stroke="#111" stroke-width="1.25"/></svg>
<div class="t " style="left:149.60px;top:256.15px;font-size:7.27px;font-weight:normal;color:#262626;transform:scaleX(0.8000);">STARTERS</div>
<div class="ab" style="left:137.4px;top:269.1px;width:4.6px;height:0.8px;background:#d0d0d0"></div>
<div class="cb" style="left:142px;top:266.0px"></div>
<svg class="ab" style="left:142.6px;top:266.2px;overflow:visible" width="5" height="5" viewBox="0 0 5 5"><path d="M0.9 2.6 L2.1 4.0 L4.6 0.6" fill="none" stroke="#111" stroke-width="1.25"/></svg>
<div class="t " style="left:149.60px;top:265.15px;font-size:7.27px;font-weight:normal;color:#262626;transform:scaleX(0.8000);">(Blanks)</div>
<div class="ab" style="left:197.1px;top:303.8px;width:17.1px;height:11.8px;border:1.3px solid #333;border-radius:2px"></div>
<div class="t " style="left:200.60px;top:306.19px;font-size:6.98px;font-weight:normal;color:#333;transform:scaleX(1.0000);">OK</div>
<div class="ab" style="left:218.7px;top:303.8px;width:26.8px;height:11.8px;border:1px solid #cfcfcf;border-radius:2px"></div>
<div class="t " style="left:222.96px;top:306.19px;font-size:6.98px;font-weight:normal;color:#333;transform:scaleX(0.8500);">Cancel</div>
<div class="co" style="left:422px;top:77.5px;width:149.1px;height:61px"></div>
<div class="t sk2" style="left:427.28px;top:87.11px;font-size:18.39px;font-weight:bold;color:#fff;transform:scaleX(1.0413);">ATTENDANCE</div>
<div class="t sk2" style="left:427.28px;top:112.64px;font-size:18.82px;font-weight:bold;color:#fff;transform:scaleX(1.0298);">STATS</div>
<div class="co" style="left:272px;top:212.5px;width:149.2px;height:34.8px"></div>
<div class="t sk2" style="left:276.93px;top:220.27px;font-size:19.26px;font-weight:bold;color:#fff;transform:scaleX(0.9967);">CLASS FILTER</div>
<div class="co" style="left:538px;top:359.3px;width:237.5px;height:75.3px"></div>
<div class="t sk2" style="left:596.12px;top:371.95px;font-size:19.40px;font-weight:bold;color:#fff;transform:scaleX(0.9727);">P = PRESENT</div>
<div class="t sk2" style="left:596.23px;top:399.04px;font-size:18.82px;font-weight:bold;color:#fff;transform:scaleX(1.0122);">A = ABSENT</div>
<svg class="ab" style="left:0;top:0" width="794" height="794" viewBox="0 0 794 794">
<g stroke="#4a6666" stroke-width="1.6" fill="none" stroke-linecap="round">
<path d="M423 77.4 L391 52.8"/><path d="M391 52.8 L396.5 53.2 M391 52.8 L392.2 58"/>
<path d="M271.6 211.4 L231.8 181.2"/><path d="M231.8 181.2 L236.6 180.8 M231.8 181.2 L232.6 185.8"/>
</g></svg>
<div class="t sk3" style="left:43.95px;top:492.64px;font-size:36.63px;font-weight:bold;color:#fff;transform:scaleX(0.9770);">STUDENT ATTENDANCE TRACKING</div>
<div class="t sk3" style="left:43.15px;top:547.18px;font-size:30.67px;font-weight:bold;color:#fff;transform:scaleX(1.0422);">FAST ATTENDANCE ENTRY</div>
<div class="ab" style="left:42px;top:594.5px;width:479px;height:2.2px;border-radius:1px;background:#c0c6c7"></div>
<div class="t sk3" style="left:43.15px;top:663.13px;font-size:26.60px;font-weight:bold;color:#fff;transform:scaleX(0.9819);">STUDENT ATTENDANCE PERFORMANCE STATS</div>
<div class="t sk3" style="left:43.95px;top:705.04px;font-size:27.18px;font-weight:bold;color:#fff;transform:scaleX(0.9517);">TOTAL ATTENDANCES &amp; ABSENT PERCENTAGE</div>
<div class="dot" style="left:4.3px;top:733.6px"></div>
<div class="dot" style="left:4.3px;top:743.6px"></div>
<div class="dot" style="left:14.3px;top:743.6px"></div>
<div class="dot" style="left:4.3px;top:753.6px"></div>
<div class="dot" style="left:14.3px;top:753.6px"></div>
<div class="dot" style="left:24.3px;top:753.6px"></div>
<div class="dot" style="left:4.3px;top:763.6px"></div>
<div class="dot" style="left:14.3px;top:763.6px"></div>
<div class="dot" style="left:24.3px;top:763.6px"></div>
<div class="dot" style="left:34.3px;top:763.6px"></div>
<div class="dot" style="left:4.3px;top:773.6px"></div>
<div class="dot" style="left:14.3px;top:773.6px"></div>
<div class="dot" style="left:24.3px;top:773.6px"></div>
<div class="dot" style="left:34.3px;top:773.6px"></div>
<div class="dot" style="left:44.3px;top:773.6px"></div>
<div class="dot" style="left:4.3px;top:783.6px"></div>
<div class="dot" style="left:14.3px;top:783.6px"></div>
<div class="dot" style="left:24.3px;top:783.6px"></div>
<div class="dot" style="left:34.3px;top:783.6px"></div>
<div class="dot" style="left:44.3px;top:783.6px"></div>
<div class="dot" style="left:54.3px;top:783.6px"></div>
<div class="dot" style="left:786.8px;top:467.2px"></div>
<div class="dot" style="left:776.65px;top:467.2px"></div>
<div class="dot" style="left:766.5px;top:467.2px"></div>
<div class="dot" style="left:756.3499999999999px;top:467.2px"></div>
<div class="dot" style="left:786.8px;top:477.2px"></div>
<div class="dot" style="left:776.65px;top:477.2px"></div>
<div class="dot" style="left:766.5px;top:477.2px"></div>
<div class="dot" style="left:786.8px;top:487.2px"></div>
<div class="dot" style="left:776.65px;top:487.2px"></div>
<div class="dot" style="left:786.8px;top:497.2px"></div>
</body></html>
